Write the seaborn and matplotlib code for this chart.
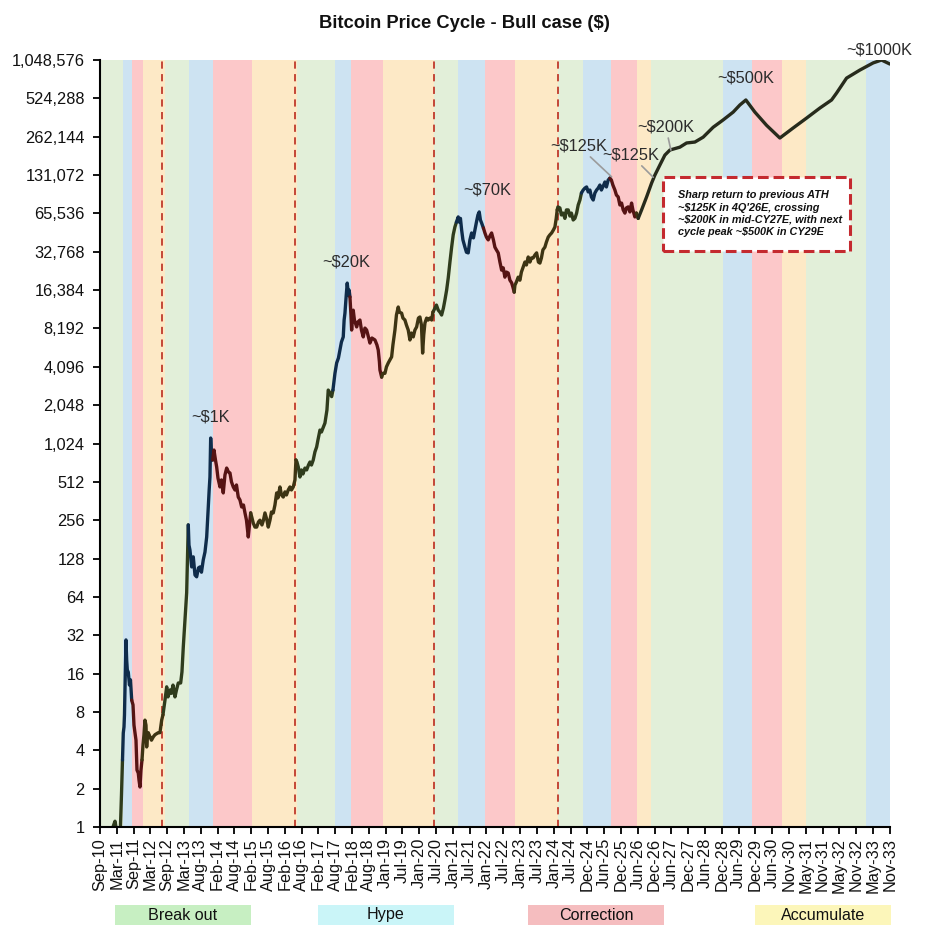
import numpy as np
import pandas as pd
import matplotlib
matplotlib.use("Agg")
import matplotlib.pyplot as plt
from matplotlib.patches import Rectangle
from matplotlib.ticker import FuncFormatter, NullLocator
import seaborn as sns

# ---------------- data ----------------
# time is expressed in decimal years, price in US$
hist_year = [
    2011.082, 2011.141, 2011.185, 2011.229, 2011.302, 2011.331, 2011.361, 2011.384, 2011.405, 2011.419,
    2011.463, 2011.484, 2011.502, 2011.531, 2011.566, 2011.595, 2011.631, 2011.669, 2011.698, 2011.727,
    2011.757, 2011.786, 2011.824, 2011.845, 2011.874, 2011.903, 2011.933, 2011.962, 2011.991, 2012.020,
    2012.050, 2012.070, 2012.094, 2012.117, 2012.167, 2012.211, 2012.264, 2012.314, 2012.410, 2012.460,
    2012.510, 2012.548, 2012.607, 2012.657, 2012.695, 2012.754, 2012.798, 2012.842, 2012.900, 2012.944,
    2012.997, 2013.067, 2013.105, 2013.144, 2013.193, 2013.243, 2013.290, 2013.311,
    2013.340, 2013.390, 2013.437, 2013.487, 2013.536, 2013.589, 2013.633, 2013.677, 2013.730, 2013.780,
    2013.830, 2013.877, 2013.903, 2013.926, 2013.947, 2013.970, 2014.006, 2014.044,
    2014.088, 2014.123, 2014.161, 2014.220, 2014.264, 2014.316, 2014.366, 2014.416, 2014.469, 2014.513,
    2014.557, 2014.610, 2014.660, 2014.704, 2014.756, 2014.806, 2014.856, 2014.909, 2014.953, 2014.997,
    2015.050, 2015.085, 2015.120, 2015.158,
    2015.196, 2015.246, 2015.296, 2015.349, 2015.393, 2015.451, 2015.495, 2015.539, 2015.598, 2015.636,
    2015.686, 2015.730, 2015.783, 2015.832, 2015.882, 2015.920, 2015.979, 2016.023, 2016.076, 2016.126,
    2016.170, 2016.222, 2016.272, 2016.316, 2016.369, 2016.419, 2016.448,
    2016.477, 2016.516, 2016.565, 2016.609, 2016.653, 2016.712, 2016.762, 2016.815, 2016.859, 2016.903,
    2016.955, 2017.005, 2017.055, 2017.093, 2017.152, 2017.196, 2017.240, 2017.298, 2017.357, 2017.395,
    2017.430, 2017.495, 2017.533, 2017.592,
    2017.642, 2017.694, 2017.738, 2017.782, 2017.835, 2017.861, 2017.885, 2017.923, 2017.952, 2017.988,
    2018.008, 2018.032, 2018.061,
    2018.081, 2018.105, 2018.128, 2018.163, 2018.228, 2018.266, 2018.325, 2018.369, 2018.422, 2018.471,
    2018.521, 2018.559, 2018.618, 2018.677, 2018.765, 2018.823, 2018.861, 2018.896, 2018.911, 2018.961,
    2018.999,
    2019.058, 2019.102, 2019.155, 2019.204, 2019.254, 2019.292, 2019.351, 2019.395, 2019.448, 2019.483,
    2019.547, 2019.586, 2019.644, 2019.688, 2019.741, 2019.791, 2019.835, 2019.888, 2019.937, 2019.987,
    2020.040, 2020.084, 2020.128, 2020.163, 2020.196, 2020.231, 2020.281, 2020.327, 2020.377, 2020.427,
    2020.465, 2020.495,
    2020.568, 2020.621, 2020.671, 2020.720, 2020.773, 2020.817, 2020.867, 2020.914, 2020.964, 2021.014,
    2021.060, 2021.110, 2021.154, 2021.207,
    2021.242, 2021.272, 2021.307, 2021.345, 2021.404, 2021.448, 2021.500, 2021.550, 2021.600, 2021.653,
    2021.697, 2021.741, 2021.785, 2021.823, 2021.858, 2021.893, 2021.946, 2021.990,
    2022.034, 2022.087, 2022.137, 2022.186, 2022.239, 2022.283, 2022.327, 2022.380, 2022.430, 2022.480,
    2022.527, 2022.576, 2022.620, 2022.673, 2022.723, 2022.773, 2022.811, 2022.849, 2022.870,
    2022.914, 2022.966, 2023.016, 2023.060, 2023.113, 2023.163, 2023.207, 2023.260, 2023.310, 2023.353,
    2023.406, 2023.456, 2023.506, 2023.559, 2023.603, 2023.647, 2023.691, 2023.749, 2023.793, 2023.846,
    2023.896, 2023.946, 2023.999, 2024.043, 2024.081, 2024.110, 2024.131,
    2024.189, 2024.233, 2024.286, 2024.336, 2024.380, 2024.433, 2024.482, 2024.526, 2024.579, 2024.629,
    2024.679, 2024.726, 2024.776, 2024.820, 2024.872,
    2024.922, 2024.972, 2025.019, 2025.069, 2025.113, 2025.166, 2025.215, 2025.265, 2025.312, 2025.362,
    2025.406, 2025.459, 2025.509, 2025.553, 2025.605, 2025.655, 2025.699,
    2025.743, 2025.802, 2025.846, 2025.899, 2025.948, 2025.998, 2026.045, 2026.095, 2026.139, 2026.192,
    2026.242, 2026.291, 2026.330, 2026.388, 2026.432, 2026.485,
]
hist_price = [
    1.0, 1.11, 0.95, 0.87, 1.02, 1.78, 3.36, 5.47, 6.1, 7.57,
    29.4, 20.4, 17.1, 16.4, 13.0, 14.3, 9.9, 9.1, 6.3, 5.5,
    4.8, 2.8, 2.65, 2.34, 2.06, 2.8, 3.36, 4.4, 5.3, 6.9,
    6.3, 4.25, 5.3, 5.5, 5.1, 4.8, 5.1, 5.3, 5.5, 5.5,
    6.9, 7.6, 9.9, 12.6, 10.5, 11.9, 11.2, 13.0, 10.5, 11.9,
    13.5, 13.5, 16.5, 25.9, 42, 69, 235, 163,
    149, 110, 132, 95, 92, 108, 110, 100, 125, 144,
    189, 325, 442, 559, 1130, 832, 760, 910,
    760, 670, 549, 467, 530, 419, 580, 657, 612, 601,
    512, 467, 442, 484, 389, 369, 325, 337, 292, 256,
    189, 235, 292, 267,
    243, 226, 226, 248, 256, 235, 256, 292, 256, 226,
    256, 297, 292, 337, 419, 383, 467, 404, 389, 427,
    404, 442, 467, 442, 467, 530, 760,
    733, 670, 559, 635, 590, 657, 635, 694, 733, 694,
    760, 880, 962, 1090, 1305, 1260, 1353, 1480, 1875, 2690,
    2590, 2390, 2690, 3640,
    4390, 4800, 5550, 6410, 7030, 9540, 10800, 14970, 18600, 14970,
    16380, 14470, 10440,
    7960, 9880, 11400, 9540, 8420, 9210, 9540, 7960, 7030, 8250,
    7960, 7280, 6290, 6890, 6650, 6080, 5550, 4480, 3870, 3400,
    3640,
    3640, 4090, 4390, 4640, 4900, 6080, 7960, 10440, 12070, 11000,
    10800, 9880, 9540, 8720, 7960, 6650, 7540, 7030, 7960, 8420,
    9880, 10080, 8720, 5250, 7280, 9030, 9880, 9540, 9880, 9540,
    11000, 11400,
    12500, 11400, 11000, 10440, 11850, 13700, 16380, 20400, 27200, 35600,
    44500, 51300, 55900, 61500,
    55900, 59900, 48600, 40600, 35600, 32500, 32100, 40600, 46000, 42100,
    48600, 55900, 63700, 67300, 58200, 55100, 50300, 46000,
    42700, 40600, 43600, 46000, 40600, 35600, 33900, 32100, 27200, 23500,
    24500, 20700, 22700, 22300, 19600, 18700, 17300, 15800, 17900,
    19000, 20700, 19600, 22700, 24900, 27200, 25800, 29800, 27200, 29300,
    29300, 30900, 32100, 27200, 26700, 29300, 33900, 35600, 39000, 42700,
    44500, 46000, 48600, 51300, 59900, 69800, 73700,
    72300, 63700, 65900, 59900, 69800, 69800, 62500, 65900, 58200, 59900,
    65900, 76300, 83500, 94700, 100000,
    103500, 105700, 96600, 100000, 88200, 83500, 94700, 100000, 103500, 109400,
    100000, 107200, 115600, 105700, 119700, 124000, 119700,
    109400, 100000, 91400, 88200, 76300, 79000, 69800, 65900, 72300, 73700,
    67300, 79000, 69800, 61500, 65900, 59900,
]

forecast_year = [
    2026.485, 2026.585, 2026.731, 2026.878, 2026.975, 2027.121, 2027.268, 2027.415, 2027.708, 2027.904,
    2028.148, 2028.391, 2028.684, 2028.977, 2029.271, 2029.467, 2029.643, 2029.907, 2030.250, 2030.640,
    2031.030, 2031.423, 2031.813, 2032.156, 2032.303, 2032.596, 2032.986, 2033.376, 2033.622, 2033.865,
]
forecast_price = [
    59900, 69800, 88200, 113300, 131000, 157000, 188000, 206000, 217000, 234000,
    238000, 260000, 311000, 355000, 409000, 465000, 509000, 409000, 322000, 256000,
    307000, 367000, 440000, 509000, 577000, 756000, 874000, 995000, 1048000, 975000,
]

# cycle-phase shading (edges in decimal years)
band_edges = [
    2010.701, 2011.375, 2011.639, 2011.962, 2012.607, 2013.311, 2014.014, 2015.158, 2016.477,
    2017.592, 2018.061, 2018.999, 2020.495, 2021.198, 2021.990, 2022.870, 2024.131, 2024.864,
    2025.685, 2026.447, 2026.857, 2028.969, 2029.819, 2030.699, 2031.402, 2033.162, 2033.983,
]
phase_cycle = ["Break out", "Hype", "Correction", "Accumulate"]
band_phases = [phase_cycle[i % 4] for i in range(len(band_edges) - 1)]

cycle_lines = [2012.519, 2016.419, 2020.495, 2024.131]

tick_labels = [
    "Sep-10", "Mar-11", "Sep-11", "Mar-12", "Sep-12", "Mar-13", "Aug-13", "Feb-14", "Aug-14", "Feb-15",
    "Aug-15", "Feb-16", "Aug-16", "Feb-17", "Aug-17", "Feb-18", "Aug-18", "Jan-19", "Jul-19", "Jan-20",
    "Jul-20", "Jan-21", "Jul-21", "Jan-22", "Jul-22", "Jan-23", "Jul-23", "Jan-24", "Jul-24", "Dec-24",
    "Jun-25", "Dec-25", "Jun-26", "Dec-26", "Jun-27", "Dec-27", "Jun-28", "Dec-28", "Jun-29", "Dec-29",
    "Jun-30", "Nov-30", "May-31", "Nov-31", "May-32", "Nov-32", "May-33", "Nov-33",
]
tick_start = "2010-09-14"
tick_step_days = 180
y_ticks = [2 ** i for i in range(21)]

peak_labels = ["~$1K", "~$20K", "~$70K", "~$125K", "~$125K", "~$200K", "~$500K", "~$1000K"]
peak_text_year = [2013.956, 2017.914, 2022.049, 2024.746, 2026.271, 2027.297, 2029.643, 2033.542]
peak_text_price = [1650, 27200, 100000, 221000, 188000, 311000, 756000, 1250000]
# points the grey leader lines go to (None: no leader)
leader_year = [None, None, None, 2025.705, 2026.925, 2027.444, None, None]
leader_price = [None, None, None, 127000, 126000, 206000, None, None]

note_text = ("Sharp return to previous ATH\n~$125K in 4Q'26E, crossing\n"
             "~$200K in mid-CY27E, with next\ncycle peak ~$500K in CY29E")

band_colors = {"Break out": "#e2efd9", "Hype": "#cde3f2", "Correction": "#fcc8c9", "Accumulate": "#fde9c6"}
line_colors = {"Break out": "#2f3c1d", "Hype": "#0f2c4b", "Correction": "#561414",
               "Accumulate": "#3d3413", "Forecast": "#272b1c"}
legend_labels = ["Break out", "Hype", "Correction", "Accumulate"]
legend_colors = ["#c7efc2", "#caf5f8", "#f5bdbf", "#fcf6ba"]

# ---------------- styling ----------------
sns.set_style("ticks")
plt.rcParams["font.family"] = ["Liberation Sans", "DejaVu Sans"]

W, H = 939, 927
fig = plt.figure(figsize=(W / 100, H / 100), dpi=100)
ax = fig.add_axes([100 / W, 1 - 827 / H, 790 / W, 767 / H])


def dec_year(d):
    return d.year + (d.dayofyear - 1) / (366 if d.is_leap_year else 365)


tick_dates = pd.date_range(tick_start, periods=len(tick_labels), freq=f"{tick_step_days}D")
tick_pos = [dec_year(d) for d in tick_dates]

# shading
for a, b, ph in zip(band_edges[:-1], band_edges[1:], band_phases):
    ax.axvspan(a, b, color=band_colors[ph], lw=0, zorder=0)

for xv in cycle_lines:
    ax.axvline(xv, color="#c0392b", lw=1.3, ls=(0, (4, 3)), zorder=1)

# build line data, coloured by phase
hist = pd.DataFrame({"year": hist_year, "price": hist_price})
idx = np.clip(np.searchsorted(band_edges, hist["year"].values, side="right") - 1, 0, len(band_phases) - 1)
hist["phase"] = [band_phases[i] for i in idx]
fc = pd.DataFrame({"year": forecast_year, "price": forecast_price})
fc["phase"] = "Forecast"
allpts = pd.concat([hist, fc], ignore_index=True)
allpts["seg"] = (allpts["phase"] != allpts["phase"].shift()).cumsum()

pieces = []
prev_last = None
for s, g in allpts.groupby("seg", sort=True):
    g = g.copy()
    if prev_last is not None:
        joint = prev_last.copy()
        joint["phase"] = g["phase"].iloc[0]
        joint["seg"] = s
        g = pd.concat([joint.to_frame().T, g], ignore_index=True)
    prev_last = allpts[allpts["seg"] == s].iloc[-1]
    pieces.append(g)
line_df = pd.concat(pieces, ignore_index=True)
line_df["year"] = line_df["year"].astype(float)
line_df["price"] = line_df["price"].astype(float)
line_df["seg"] = line_df["seg"].astype(int)

sns.lineplot(data=line_df, x="year", y="price", hue="phase", units="seg", estimator=None,
             palette=line_colors, legend=False, lw=2.4, sort=False, ax=ax, zorder=3)

# axes
ax.set_yscale("log", base=2)
ax.set_ylim(1, 2 ** 20)
ax.set_yticks(y_ticks)
ax.yaxis.set_major_formatter(FuncFormatter(lambda v, p: f"{int(round(v)):,}"))
ax.yaxis.set_minor_locator(NullLocator())
ax.set_xlim(tick_pos[0], 2033.87)
ax.set_xticks(tick_pos)
ax.set_xticklabels(tick_labels, rotation=90)
ax.xaxis.set_minor_locator(NullLocator())
ax.set_xlabel("")
ax.set_ylabel("")
ax.tick_params(axis="both", direction="out", length=5, width=1.3, color="black", labelsize=11.8,
               labelcolor="#111111")
ax.tick_params(axis="x", pad=3)
ax.tick_params(axis="y", pad=6)
for side in ["top", "right"]:
    ax.spines[side].set_visible(False)
for side in ["left", "bottom"]:
    ax.spines[side].set_linewidth(1.5)
    ax.spines[side].set_color("black")
    ax.spines[side].set_zorder(5)

# peak labels
for lab, tx, ty, lx, ly in zip(peak_labels, peak_text_year, peak_text_price, leader_year, leader_price):
    if lx is None:
        ax.text(tx, ty, lab, ha="center", va="center", fontsize=11.8, color="#2b2b2b",
                zorder=6, clip_on=False)
    else:
        ax.annotate(lab, xy=(lx, ly), xytext=(tx, ty), ha="center", va="center", fontsize=11.8,
                    color="#2b2b2b", zorder=6,
                    arrowprops=dict(arrowstyle="-", color="#9b9b9b", lw=1.2, shrinkA=0, shrinkB=0))

# note box
box = Rectangle((0.7127, 0.7510), 0.2367, 0.0965, transform=ax.transAxes, facecolor="white",
                edgecolor="#c42a2f", lw=2.2, ls=(0, (3.5, 1.6)), zorder=7)
ax.add_patch(box)
ax.text(0.7316, 0.7995, note_text, transform=ax.transAxes, ha="left", va="center",
        fontsize=7.8, fontweight="bold", fontstyle="italic", linespacing=1.3, color="#111111",
        family=["Liberation Sans Narrow", "Liberation Sans", "DejaVu Sans"], zorder=8)

# title
fig.text(464 / W, 1 - 23 / H, "Bitcoin Price Cycle - Bull case ($)", ha="center", va="center",
         fontsize=13.2, fontweight="bold", color="#111111")

# legend boxes
leg_left = [115, 318, 528, 755]
for lab, col, lx in zip(legend_labels, legend_colors, leg_left):
    fig.add_artist(Rectangle((lx / W, 1 - 925 / H), 136 / W, 20 / H, transform=fig.transFigure,
                             facecolor=col, edgecolor="none"))
    fig.text((lx + 68) / W, 1 - 915 / H, lab, ha="center", va="center", fontsize=11.6, color="#111111")

fig.savefig("out.png", dpi=100)
